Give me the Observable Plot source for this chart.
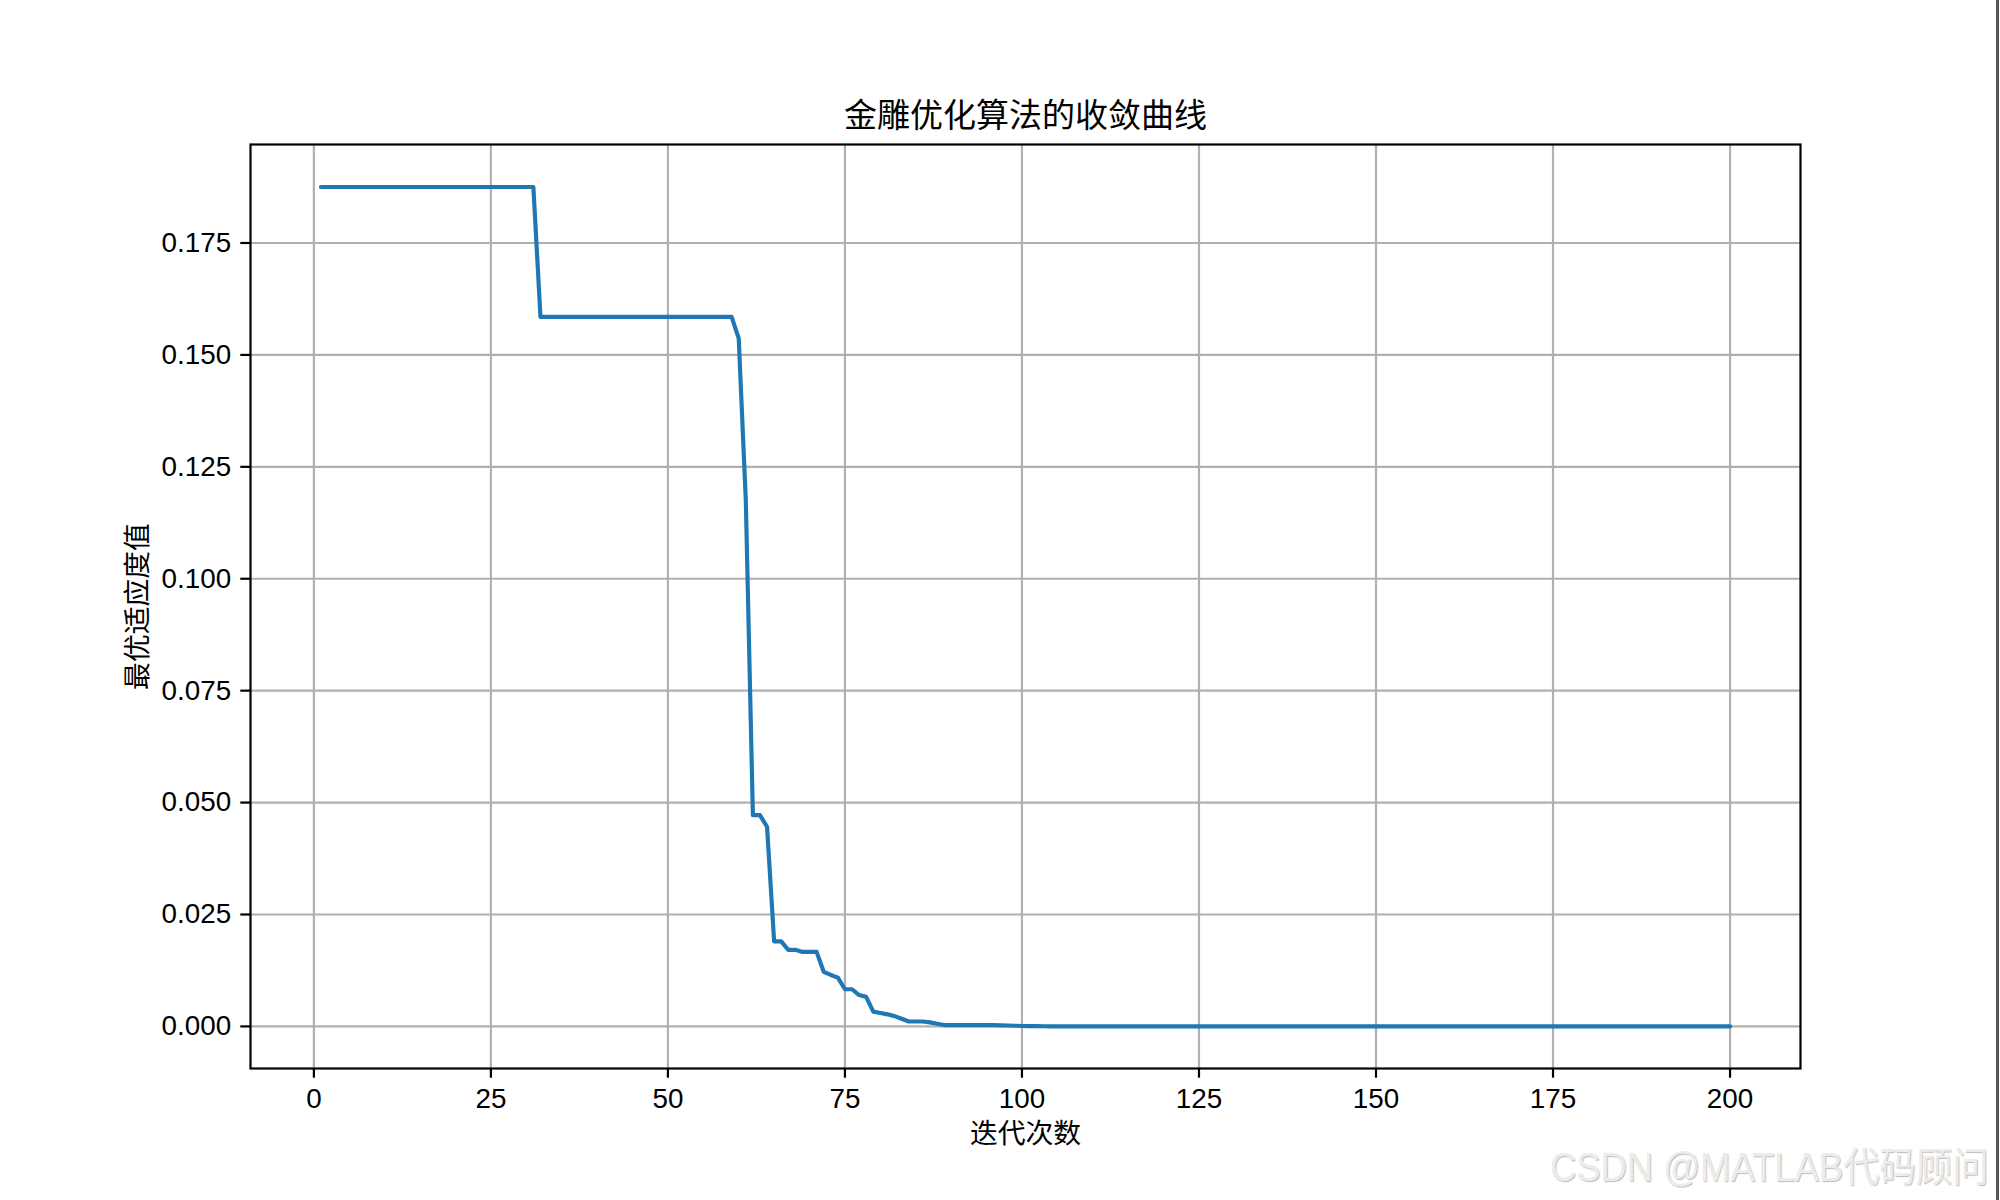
<!DOCTYPE html>
<html><head><meta charset="utf-8">
<script src="https://cdn.jsdelivr.net/npm/d3@7"></script>
<script src="https://cdn.jsdelivr.net/npm/@observablehq/plot@0.6"></script>
<style>
html,body{margin:0;padding:0;background:#fff;}
#wrap{position:relative;width:2000px;height:1200px;overflow:hidden;background:#fff;}
#wrap svg{position:absolute;left:0;top:0;}
#wm{position:absolute;left:1550px;top:1147px;font-size:40px;line-height:40px;font-family:"Liberation Sans","Noto Sans CJK SC",sans-serif;color:#ececec;text-shadow:1px 1px 1px #bdbdbd;white-space:nowrap;transform:scaleX(0.91);transform-origin:0 0;}
#edge{position:absolute;left:1996px;top:0;width:3px;height:1200px;background:#555;}
</style></head>
<body>
<div id="wrap"><div id="wm">CSDN @MATLAB代码顾问</div><div id="edge"></div></div>
<script>
const title = "金雕优化算法的收敛曲线";
const xLabel = "迭代次数";
const yLabel = "最优适应度值";
const xTicks = [0, 25, 50, 75, 100, 125, 150, 175, 200];
const yTicks = [0, 0.025, 0.05, 0.075, 0.1, 0.125, 0.15, 0.175];
// best fitness per iteration (iterations 1..200)
const bestFitness = [
  0.1875,0.1875,0.1875,0.1875,0.1875,0.1875,0.1875,0.1875,0.1875,0.1875,
  0.1875,0.1875,0.1875,0.1875,0.1875,0.1875,0.1875,0.1875,0.1875,0.1875,
  0.1875,0.1875,0.1875,0.1875,0.1875,0.1875,0.1875,0.1875,0.1875,0.1875,
  0.1875,0.1585,0.1585,0.1585,0.1585,0.1585,0.1585,0.1585,0.1585,0.1585,
  0.1585,0.1585,0.1585,0.1585,0.1585,0.1585,0.1585,0.1585,0.1585,0.1585,
  0.1585,0.1585,0.1585,0.1585,0.1585,0.1585,0.1585,0.1585,0.1585,0.1537,
  0.1175,0.0472,0.0472,0.0446,0.0190,0.0190,0.0171,0.0171,0.01665,0.01665,
  0.01665,0.0122,0.0115,0.0109,0.0083,0.0083,0.0070,0.0066,0.0033,0.0030,
  0.0027,0.0023,0.0017,0.0011,0.0011,0.0011,0.0009,0.0006,0.0003,0.0003,
  0.0003,0.0003,0.0003,0.0003,0.0003,0.0003,0.00025,0.0002,0.00015,0.0001,
  0.00008,0.00005,0.00003,0.00002,0.00001,0.00001,0.00001,0.00001,0,0,
  0,0,0,0,0,0,0,0,0,0,
  0,0,0,0,0,0,0,0,0,0,
  0,0,0,0,0,0,0,0,0,0,
  0,0,0,0,0,0,0,0,0,0,
  0,0,0,0,0,0,0,0,0,0,
  0,0,0,0,0,0,0,0,0,0,
  0,0,0,0,0,0,0,0,0,0,
  0,0,0,0,0,0,0,0,0,0,
  0,0,0,0,0,0,0,0,0,0
];

const gridStyle = {stroke: "#b0b0b0", strokeOpacity: 1, strokeWidth: 2.2};
const axisStyle = {tickSize: 9.7, tickPadding: 9.7, fontSize: 27.8, strokeWidth: 2.2, label: null};

const plot = Plot.plot({
  width: 2000, height: 1200,
  marginLeft: 250, marginRight: 200, marginTop: 144, marginBottom: 132,
  style: {fontFamily: '"Liberation Sans","Noto Sans CJK SC",sans-serif', background: "transparent", color: "#000"},
  x: {domain: [-8.95, 209.95]},
  y: {domain: [-0.0094, 0.197]},
  marks: [
    Plot.gridX(xTicks, gridStyle),
    Plot.gridY(yTicks, gridStyle),
    Plot.line(bestFitness, {x: (d, i) => i + 1, y: d => d, stroke: "#1f77b4", strokeWidth: 4.17}),
    Plot.frame({stroke: "#000", strokeWidth: 2.2}),
    Plot.axisX(xTicks, {...axisStyle, tickFormat: d => String(d)}),
    Plot.axisY(yTicks, {...axisStyle, tickFormat: d3.format(".3f")}),
    Plot.text([title], {text: d => d, frameAnchor: "top", dy: -28, fontSize: 33, lineAnchor: "middle", textAnchor: "middle"}),
    Plot.text([xLabel], {text: d => d, frameAnchor: "bottom", dy: 66, fontSize: 27.8, lineAnchor: "middle", textAnchor: "middle"}),
    Plot.text([yLabel], {text: d => d, frameAnchor: "left", dx: -112, rotate: -90, fontSize: 27.8, lineAnchor: "middle", textAnchor: "middle"})
  ]
});
document.getElementById("wrap").prepend(plot);
</script>
</body></html>
